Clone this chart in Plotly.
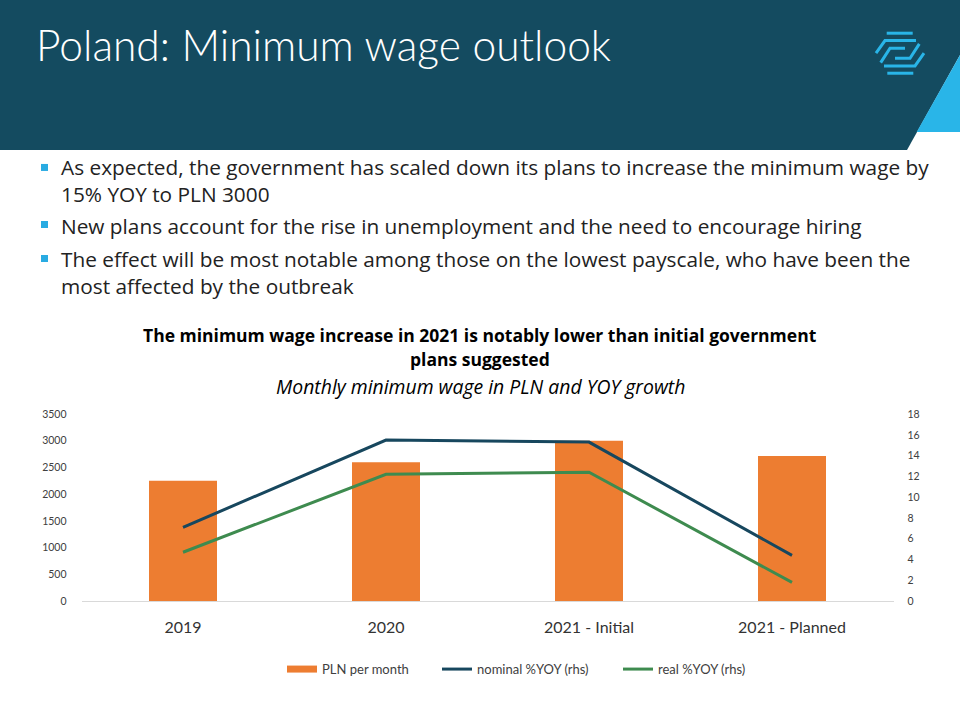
import plotly.graph_objects as go

categories = ["2019", "2020", "2021 - Initial", "2021 - Planned"]
pln_per_month = [2250, 2600, 3000, 2716]
nominal_yoy = [7.1, 15.5, 15.3, 4.4]
real_yoy = [4.7, 12.2, 12.4, 1.8]
left_ticks = [0, 500, 1000, 1500, 2000, 2500, 3000, 3500]
right_ticks = [0, 2, 4, 6, 8, 10, 12, 14, 16, 18]

title = "Poland: Minimum wage outlook"
bullets = [
    ["As expected, the government has scaled down its plans to increase the minimum wage by",
     "15% YOY to PLN 3000"],
    ["New plans account for the rise in unemployment and the need to encourage hiring"],
    ["The effect will be most notable among those on the lowest payscale, who have been the",
     "most affected by the outbreak"],
]
chart_title = ["The minimum wage increase in 2021 is notably lower than initial government",
               "plans suggested"]
chart_subtitle = "Monthly minimum wage in PLN and YOY growth"

W, H = 960, 720
def px(x): return x / W
def py(y):
    # target screen y -> paper fraction (accounts for the small vertical squeeze of the viewer)
    yf = (y - 6.1) / 0.983
    return 1 - yf / H

ORANGE = "#ED7D31"
NAVY = "#17475E"
GREEN = "#3E8B4F"
HEADER = "#144B60"
LIGHTBLUE = "#29B5E8"
FONT = "Lato"
BFONT = "Open Sans"

fig = go.Figure()
fig.add_trace(go.Bar(x=categories, y=pln_per_month, name="PLN per month",
                     marker=dict(color=ORANGE, line=dict(width=0)), yaxis="y",
                     showlegend=False))
fig.add_trace(go.Scatter(x=[None], y=[None], name="PLN per month", mode="lines",
                         line=dict(color=ORANGE, width=7), yaxis="y", legendwidth=110))
fig.add_trace(go.Scatter(x=categories, y=nominal_yoy, name="nominal %YOY (rhs)",
                         mode="lines", line=dict(color=NAVY, width=3), yaxis="y2",
                         legendwidth=136))
fig.add_trace(go.Scatter(x=categories, y=real_yoy, name="real %YOY (rhs)",
                         mode="lines", line=dict(color=GREEN, width=3), yaxis="y2"))

shapes = []
shapes.append(dict(type="path", xref="paper", yref="paper",
                   path=f"M {px(0)},1.05 L {px(960)},1.05 L {px(960)},{py(55)} L {px(907)},{py(150)} L {px(0)},{py(150)} Z",
                   fillcolor=HEADER, line=dict(width=0), layer="below"))
shapes.append(dict(type="path", xref="paper", yref="paper",
                   path=f"M {px(960)},{py(55)} L {px(916.7)},{py(132)} L {px(960)},{py(132)} Z",
                   fillcolor=LIGHTBLUE, line=dict(width=0), layer="below"))
logo = [
    [(886.7, 33.3), (912.7, 33.3)],
    [(876, 53.3), (885, 40.7), (916, 40.7)],
    [(880.7, 62.7), (890, 48.3), (905, 48.3)],
    [(913.3, 73.3), (887.3, 73.3)],
    [(924, 53.3), (915, 66), (884, 66)],
    [(919.3, 44), (910, 58.3), (895, 58.3)],
]
for pts in logo:
    path = "M " + " L ".join(f"{px(x)},{py(y)}" for x, y in pts)
    shapes.append(dict(type="path", xref="paper", yref="paper", path=path,
                       line=dict(color=LIGHTBLUE, width=3)))

annotations = []
annotations.append(dict(text=title, x=px(34), y=py(45), xref="paper", yref="paper",
                        xanchor="left", yanchor="middle", showarrow=False,
                        font=dict(family=FONT, size=42.5, color="white", weight=300)))

first_line_y = [169, 226, 260]
block_center_y = [181, 226, 272.5]
for b, y0, yc in zip(bullets, first_line_y, block_center_y):
    shapes.append(dict(type="rect", xref="paper", yref="paper",
                       x0=px(41), x1=px(48), y0=py(y0 - 5), y1=py(y0 + 2),
                       fillcolor="#29ABE2", line=dict(width=0)))
    annotations.append(dict(text="<br>".join(b), x=px(59), y=py(yc), xref="paper", yref="paper",
                            xanchor="left", yanchor="middle", align="left", showarrow=False,
                            font=dict(family=BFONT, size=20.8, color="#222222")))

for txt, yy in zip(chart_title, [335, 359]):
    annotations.append(dict(text="<b>" + txt + "</b>", x=px(480), y=py(yy), xref="paper", yref="paper",
                            xanchor="center", yanchor="middle", showarrow=False,
                            font=dict(family=BFONT, size=17.5, color="#000000")))
annotations.append(dict(text="<i>" + chart_subtitle + "</i>", x=px(480), y=py(386), xref="paper", yref="paper",
                        xanchor="center", yanchor="middle", showarrow=False,
                        font=dict(family=BFONT, size=19.4, color="#000000")))

fig.update_layout(
    width=W, height=H,
    margin=dict(l=0, r=0, t=0, b=0),
    paper_bgcolor="white", plot_bgcolor="white",
    bargap=0.665,
    showlegend=True,
    legend=dict(orientation="h", x=px(282), xanchor="left", y=py(669), yanchor="middle",
                font=dict(family=FONT, size=13, color="#404040"), itemwidth=30),
    xaxis=dict(domain=[px(81.5), px(893.5)], showline=True, linecolor="#D9D9D9", linewidth=1,
               showgrid=False, ticks="", tickfont=dict(family=FONT, size=16, color="#333333"),
               ticklabelstandoff=12),
    yaxis=dict(domain=[py(601), py(414)], range=[0, 3500], tickvals=left_ticks,
               showgrid=False, zeroline=False, showline=False,
               tickfont=dict(family=FONT, size=10.5, color="#404040"), ticklabelstandoff=14),
    yaxis2=dict(overlaying="y", side="right", range=[0, 18], tickvals=right_ticks,
                showgrid=False, zeroline=False, showline=False,
                tickfont=dict(family=FONT, size=10.5, color="#404040"), ticklabelstandoff=13),
    shapes=shapes,
    annotations=annotations,
)

fig.write_html("out.html")
